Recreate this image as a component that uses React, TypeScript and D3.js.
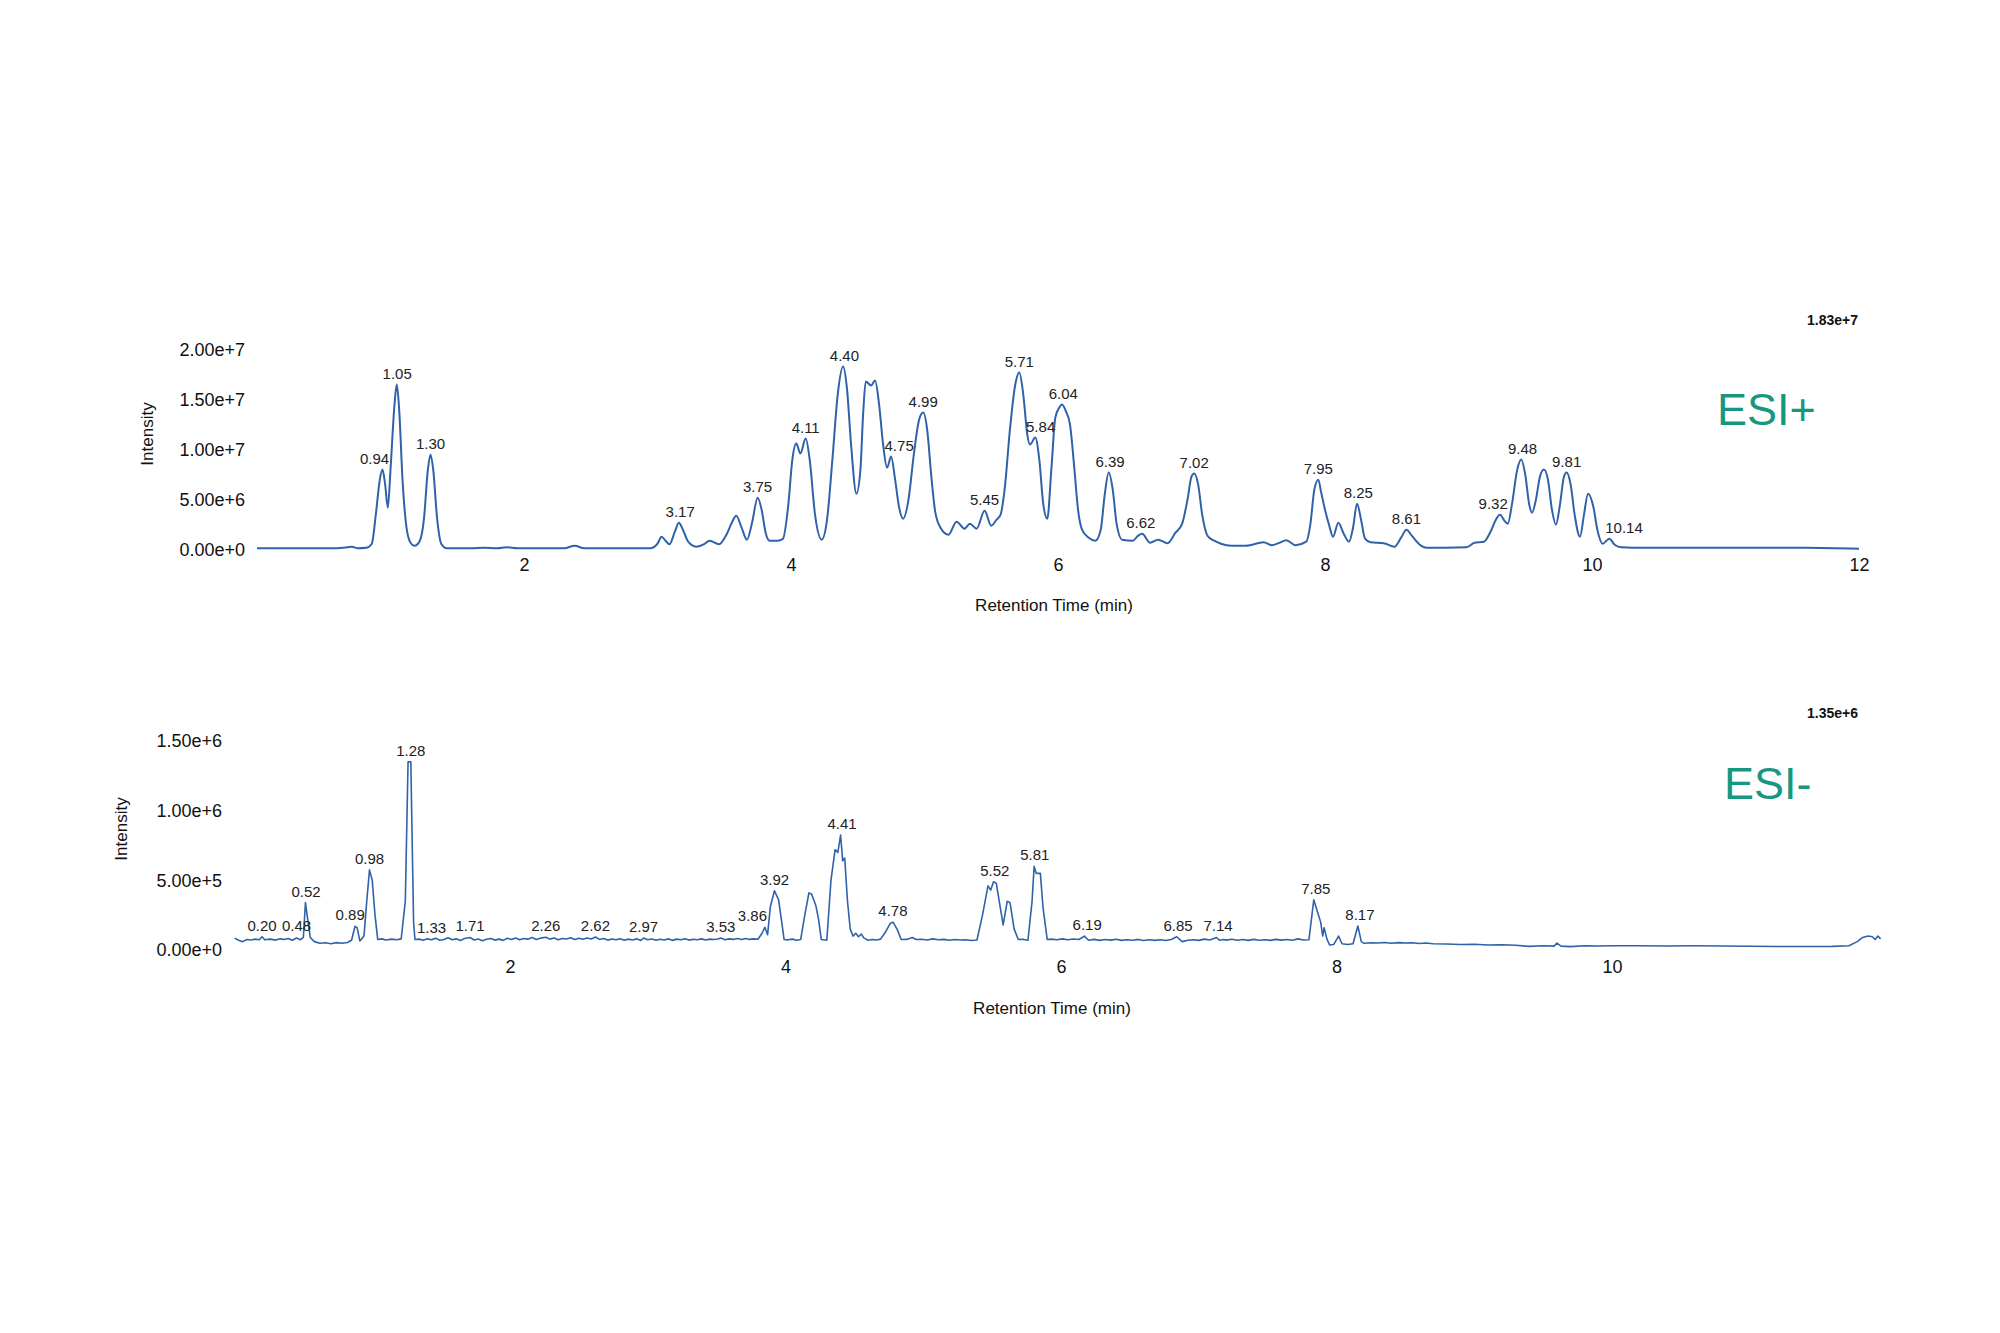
import React, { useEffect, useRef } from 'react'
import * as d3 from 'd3'

type Pt = [number, number]

// ESI+ chromatogram: [retention time (min), intensity]
const esiPos: Pt[] = [
    [0.00, 0.15e6], [0.60, 0.15e6], [0.68, 0.25e6], [0.71, 0.3e6], [0.75, 0.15e6], [0.82, 0.2e6],
    [0.86, 0.6e6], [0.89, 3.5e6], [0.92, 7.0e6], [0.94, 8.0e6], [0.96, 6.5e6], [0.98, 4.2e6],
    [1.00, 8.0e6], [1.03, 14.5e6], [1.047, 16.5e6], [1.065, 14.0e6], [1.09, 7.0e6], [1.12, 2.2e6],
    [1.15, 0.7e6], [1.18, 0.4e6], [1.22, 0.9e6], [1.25, 3.0e6], [1.28, 8.0e6], [1.30, 9.5e6],
    [1.32, 8.0e6], [1.35, 3.0e6], [1.38, 0.6e6], [1.42, 0.15e6], [1.60, 0.15e6], [1.70, 0.2e6],
    [1.80, 0.15e6], [1.87, 0.25e6], [1.95, 0.15e6], [2.30, 0.15e6], [2.38, 0.4e6], [2.45, 0.15e6],
    [2.95, 0.15e6], [3.00, 0.6e6], [3.03, 1.3e6], [3.06, 0.9e6], [3.09, 0.55e6], [3.13, 1.8e6],
    [3.16, 2.7e6], [3.19, 2.0e6], [3.23, 0.8e6], [3.29, 0.3e6], [3.35, 0.55e6], [3.39, 0.9e6],
    [3.43, 0.7e6], [3.46, 0.55e6], [3.52, 1.6e6], [3.56, 2.8e6], [3.59, 3.4e6], [3.63, 2.2e6],
    [3.67, 1.0e6], [3.71, 2.8e6], [3.75, 5.2e6], [3.78, 4.0e6], [3.81, 1.7e6], [3.84, 0.9e6],
    [3.90, 0.9e6], [3.94, 1.1e6], [3.98, 4.5e6], [4.01, 9.0e6], [4.04, 10.6e6], [4.07, 9.6e6],
    [4.11, 11.1e6], [4.14, 9.0e6], [4.18, 3.5e6], [4.23, 1.0e6], [4.27, 3.0e6], [4.31, 9.0e6],
    [4.35, 15.5e6], [4.39, 18.3e6], [4.42, 16.0e6], [4.45, 10.5e6], [4.49, 5.6e6], [4.52, 8.0e6],
    [4.54, 13.5e6], [4.56, 16.8e6], [4.60, 16.4e6], [4.63, 16.9e6], [4.66, 14.5e6], [4.69, 10.5e6],
    [4.72, 8.2e6], [4.75, 9.3e6], [4.78, 7.0e6], [4.81, 4.2e6], [4.84, 3.1e6], [4.88, 5.0e6],
    [4.92, 9.5e6], [4.96, 13.0e6], [4.99, 13.7e6], [5.02, 12.0e6], [5.05, 7.5e6], [5.08, 3.8e6],
    [5.12, 2.2e6], [5.18, 1.5e6], [5.24, 2.8e6], [5.30, 2.1e6], [5.34, 2.6e6], [5.39, 2.1e6],
    [5.45, 3.9e6], [5.50, 2.4e6], [5.54, 3.0e6], [5.57, 3.5e6], [5.60, 6.0e6], [5.64, 12.0e6],
    [5.68, 16.5e6], [5.71, 17.7e6], [5.74, 15.5e6], [5.77, 11.5e6], [5.79, 10.5e6], [5.83, 11.2e6],
    [5.86, 9.0e6], [5.89, 4.5e6], [5.92, 3.1e6], [5.95, 8.0e6], [5.98, 13.2e6], [6.01, 14.2e6],
    [6.03, 14.5e6], [6.06, 13.8e6], [6.09, 12.5e6], [6.12, 8.5e6], [6.15, 4.0e6], [6.18, 2.0e6],
    [6.23, 1.2e6], [6.28, 0.9e6], [6.32, 2.0e6], [6.35, 5.5e6], [6.38, 7.7e6], [6.41, 6.0e6],
    [6.44, 2.5e6], [6.48, 1.0e6], [6.56, 0.9e6], [6.60, 1.4e6], [6.63, 1.6e6], [6.69, 0.7e6],
    [6.75, 1.0e6], [6.82, 0.65e6], [6.88, 1.7e6], [6.93, 2.6e6], [6.97, 5.0e6], [7.00, 7.3e6],
    [7.02, 7.6e6], [7.05, 6.5e6], [7.08, 3.5e6], [7.12, 1.4e6], [7.17, 0.9e6], [7.22, 0.6e6],
    [7.30, 0.4e6], [7.41, 0.4e6], [7.54, 0.75e6], [7.60, 0.45e6], [7.66, 0.7e6], [7.71, 0.95e6],
    [7.78, 0.45e6], [7.86, 0.8e6], [7.89, 2.5e6], [7.92, 6.0e6], [7.95, 7.0e6], [7.97, 5.8e6],
    [8.00, 4.0e6], [8.03, 2.5e6], [8.06, 1.3e6], [8.10, 2.7e6], [8.14, 1.6e6], [8.18, 0.8e6],
    [8.21, 2.2e6], [8.24, 4.6e6], [8.27, 3.0e6], [8.30, 1.1e6], [8.34, 0.75e6], [8.44, 0.65e6],
    [8.52, 0.3e6], [8.57, 1.2e6], [8.61, 2.0e6], [8.65, 1.4e6], [8.71, 0.5e6], [8.76, 0.2e6],
    [9.06, 0.25e6], [9.12, 0.7e6], [9.19, 0.8e6], [9.24, 1.8e6], [9.28, 3.0e6], [9.31, 3.5e6],
    [9.35, 2.8e6], [9.37, 2.6e6], [9.40, 4.5e6], [9.44, 8.0e6], [9.47, 9.0e6], [9.50, 7.5e6],
    [9.53, 4.5e6], [9.55, 3.7e6], [9.58, 5.0e6], [9.61, 7.3e6], [9.64, 8.0e6], [9.67, 7.0e6],
    [9.70, 4.0e6], [9.73, 2.5e6], [9.76, 4.5e6], [9.79, 7.3e6], [9.81, 7.7e6], [9.84, 6.5e6],
    [9.87, 3.5e6], [9.91, 1.3e6], [9.94, 3.5e6], [9.97, 5.6e6], [10.01, 4.3e6], [10.04, 2.0e6],
    [10.08, 0.6e6], [10.13, 1.1e6], [10.17, 0.5e6], [10.22, 0.25e6], [10.40, 0.2e6], [11.60, 0.2e6],
    [12.00, 0.1e6],
]

// ESI- chromatogram (noisy trace, drawn straight point to point)
const esiNeg: Pt[] = [
    [0.00, 8.5e4], [0.03, 7.0e4], [0.06, 6.0e4], [0.09, 7.5e4], [0.12, 7.2e4], [0.15, 7.8e4],
    [0.18, 7.4e4], [0.20, 9.5e4], [0.22, 7.3e4], [0.26, 7.8e4], [0.30, 7.1e4], [0.33, 8.0e4],
    [0.36, 7.5e4], [0.39, 8.2e4], [0.42, 7.0e4], [0.45, 8.6e4], [0.48, 7.4e4], [0.50, 9.0e4],
    [0.515, 3.4e5], [0.53, 2.3e5], [0.55, 9.0e4], [0.58, 6.0e4], [0.62, 4.8e4], [0.66, 5.2e4],
    [0.70, 4.5e4], [0.74, 5.3e4], [0.78, 4.8e4], [0.82, 5.4e4], [0.85, 7.0e4], [0.875, 1.7e5],
    [0.89, 1.6e5], [0.91, 6.5e4], [0.94, 1.0e5], [0.96, 3.5e5], [0.98, 5.75e5], [1.00, 5.0e5],
    [1.02, 2.5e5], [1.04, 7.5e4], [1.07, 8.0e4], [1.10, 7.2e4], [1.14, 7.8e4], [1.18, 7.4e4],
    [1.21, 8.0e4], [1.24, 3.5e5], [1.26, 1.35e6], [1.28, 1.35e6], [1.30, 2.0e5], [1.31, 7.5e4],
    [1.34, 7.8e4], [1.37, 7.0e4], [1.40, 8.0e4], [1.43, 7.3e4], [1.46, 8.5e4], [1.49, 7.0e4],
    [1.52, 7.6e4], [1.55, 8.8e4], [1.58, 7.4e4], [1.61, 8.0e4], [1.64, 6.8e4], [1.67, 8.2e4],
    [1.71, 9.0e4], [1.74, 7.2e4], [1.77, 7.9e4], [1.80, 6.6e4], [1.83, 7.7e4], [1.86, 8.3e4],
    [1.89, 7.1e4], [1.92, 7.8e4], [1.95, 6.9e4], [1.98, 8.4e4], [2.01, 7.5e4], [2.04, 8.6e4],
    [2.07, 7.3e4], [2.10, 8.2e4], [2.13, 7.8e4], [2.16, 8.9e4], [2.19, 7.6e4], [2.22, 8.5e4],
    [2.26, 9.2e4], [2.29, 7.8e4], [2.32, 8.6e4], [2.35, 7.4e4], [2.38, 8.3e4], [2.41, 7.9e4],
    [2.44, 8.8e4], [2.47, 7.5e4], [2.50, 8.4e4], [2.53, 7.7e4], [2.56, 8.6e4], [2.59, 7.9e4],
    [2.62, 9.3e4], [2.65, 7.6e4], [2.68, 8.2e4], [2.71, 7.1e4], [2.74, 7.9e4], [2.77, 7.3e4],
    [2.80, 8.1e4], [2.83, 7.0e4], [2.86, 7.8e4], [2.89, 7.2e4], [2.92, 8.0e4], [2.95, 6.9e4],
    [2.97, 8.6e4], [3.00, 7.4e4], [3.03, 7.9e4], [3.06, 7.0e4], [3.09, 7.7e4], [3.12, 7.2e4],
    [3.15, 8.0e4], [3.18, 6.9e4], [3.21, 7.8e4], [3.24, 7.3e4], [3.27, 8.1e4], [3.30, 7.1e4],
    [3.33, 7.7e4], [3.36, 7.4e4], [3.39, 8.0e4], [3.42, 7.2e4], [3.45, 7.8e4], [3.48, 7.5e4],
    [3.51, 7.9e4], [3.53, 8.6e4], [3.56, 7.4e4], [3.59, 8.0e4], [3.62, 7.6e4], [3.65, 8.2e4],
    [3.68, 7.5e4], [3.71, 8.3e4], [3.74, 7.6e4], [3.77, 8.0e4], [3.80, 7.7e4], [3.83, 1.2e5],
    [3.85, 1.63e5], [3.87, 1.1e5], [3.89, 3.1e5], [3.92, 4.25e5], [3.95, 3.6e5], [3.97, 2.2e5],
    [3.99, 7.5e4], [4.02, 7.3e4], [4.05, 7.8e4], [4.08, 7.0e4], [4.11, 7.5e4], [4.14, 2.5e5],
    [4.17, 4.1e5], [4.19, 4.0e5], [4.22, 3.2e5], [4.24, 2.2e5], [4.26, 7.5e4], [4.30, 7.0e4],
    [4.33, 5.0e5], [4.36, 7.2e5], [4.38, 7.0e5], [4.40, 8.25e5], [4.415, 6.4e5], [4.43, 6.6e5],
    [4.45, 3.5e5], [4.47, 1.5e5], [4.49, 1.0e5], [4.51, 1.2e5], [4.53, 9.5e4], [4.55, 1.15e5],
    [4.57, 8.5e4], [4.60, 7.0e4], [4.63, 7.5e4], [4.66, 7.2e4], [4.69, 7.8e4], [4.72, 1.2e5],
    [4.76, 1.9e5], [4.78, 2.0e5], [4.81, 1.5e5], [4.84, 7.5e4], [4.88, 7.6e4], [4.92, 9.0e4],
    [4.95, 7.5e4], [4.99, 7.7e4], [5.03, 7.2e4], [5.07, 8.0e4], [5.11, 7.4e4], [5.15, 7.6e4],
    [5.19, 7.0e4], [5.23, 7.5e4], [5.27, 7.2e4], [5.31, 7.4e4], [5.35, 6.8e4], [5.39, 7.2e4],
    [5.43, 2.5e5], [5.47, 4.6e5], [5.49, 4.3e5], [5.51, 4.9e5], [5.53, 4.8e5], [5.56, 3.0e5],
    [5.58, 1.8e5], [5.61, 3.5e5], [5.63, 3.4e5], [5.66, 1.5e5], [5.69, 7.5e4], [5.73, 7.6e4],
    [5.76, 7.0e4], [5.79, 3.5e5], [5.805, 6.0e5], [5.82, 5.5e5], [5.85, 5.5e5], [5.87, 3.0e5],
    [5.90, 7.5e4], [5.93, 7.8e4], [5.97, 7.4e4], [6.01, 8.0e4], [6.05, 7.3e4], [6.09, 7.9e4],
    [6.13, 7.5e4], [6.17, 1.0e5], [6.20, 7.0e4], [6.24, 7.6e4], [6.28, 6.9e4], [6.32, 7.5e4],
    [6.36, 7.1e4], [6.40, 7.7e4], [6.44, 6.9e4], [6.48, 7.4e4], [6.52, 7.0e4], [6.56, 7.6e4],
    [6.60, 6.8e4], [6.64, 7.3e4], [6.68, 6.9e4], [6.72, 7.4e4], [6.76, 6.8e4], [6.80, 7.6e4],
    [6.84, 9.5e4], [6.88, 6.0e4], [6.92, 7.0e4], [6.96, 7.4e4], [7.00, 6.9e4], [7.04, 7.8e4],
    [7.08, 7.2e4], [7.13, 9.0e4], [7.15, 7.0e4], [7.18, 7.6e4], [7.20, 7.1e4], [7.24, 7.7e4],
    [7.28, 7.0e4], [7.32, 7.5e4], [7.36, 6.9e4], [7.40, 7.6e4], [7.44, 7.0e4], [7.48, 7.4e4],
    [7.52, 6.9e4], [7.56, 7.6e4], [7.60, 7.1e4], [7.64, 7.5e4], [7.68, 7.0e4], [7.72, 8.0e4],
    [7.76, 7.2e4], [7.80, 7.4e4], [7.835, 3.6e5], [7.86, 2.8e5], [7.885, 2.0e5], [7.90, 1.0e5],
    [7.91, 1.6e5], [7.93, 8.0e4], [7.95, 3.6e4], [7.98, 4.0e4], [8.015, 1.0e5], [8.04, 4.5e4],
    [8.08, 4.0e4], [8.12, 4.5e4], [8.155, 1.72e5], [8.18, 6.0e4], [8.20, 4.8e4], [8.25, 5.2e4],
    [8.30, 5.0e4], [8.35, 5.4e4], [8.40, 4.9e4], [8.45, 5.3e4], [8.50, 5.0e4], [8.55, 5.2e4],
    [8.60, 4.7e4], [8.65, 5.0e4], [8.70, 4.5e4], [8.80, 4.3e4], [8.90, 4.0e4], [9.00, 4.1e4],
    [9.10, 3.6e4], [9.20, 3.8e4], [9.30, 3.4e4], [9.40, 2.6e4], [9.50, 3.0e4], [9.58, 2.8e4],
    [9.60, 5.0e4], [9.63, 2.8e4], [9.70, 2.4e4], [9.80, 3.0e4], [9.90, 2.9e4], [10.00, 3.1e4],
    [10.20, 3.0e4], [10.40, 2.9e4], [10.60, 3.0e4], [10.80, 2.9e4], [11.00, 2.7e4], [11.20, 2.5e4],
    [11.40, 2.5e4], [11.60, 2.6e4], [11.72, 3.0e4], [11.78, 6.0e4], [11.82, 9.0e4], [11.86, 1.0e5],
    [11.89, 9.5e4], [11.91, 7.5e4], [11.93, 1.0e5], [11.95, 8.0e4],
]

// annotated retention times
const posLabels = [0.94, 1.05, 1.30, 3.17, 3.75, 4.11, 4.40, 4.75, 4.99, 5.45, 5.71, 5.84, 6.04,
    6.39, 6.62, 7.02, 7.95, 8.25, 8.61, 9.32, 9.48, 9.81, 10.14]
const negLabels = [0.20, 0.48, 0.52, 0.89, 0.98, 1.28, 1.33, 1.71, 2.26, 2.62, 2.97, 3.53, 3.86,
    3.92, 4.41, 4.78, 5.52, 5.81, 6.19, 6.85, 7.14, 7.85, 8.17]

// sideways shifts (min) the original software gave some labels
const posNudge: Record<string, number> = { '0.94': -0.06, '4.75': 0.06, '5.84': 0.03, '9.32': -0.06, '10.14': 0.1 }
const negNudge: Record<string, number> = { '0.48': -0.03, '0.89': -0.05, '1.33': 0.1, '3.86': -0.1 }

const posTicksX = [2, 4, 6, 8, 10, 12]
const negTicksX = [2, 4, 6, 8, 10]
const posTicksY = [0, 5e6, 1e7, 1.5e7, 2e7]
const negTicksY = [0, 5e5, 1e6, 1.5e6]

const FONT = "'Liberation Sans', Arial, Helvetica, sans-serif"
const LINE = '#2f62a8'
const TEAL = '#17977f'

type Panel = {
    name: string
    data: Pt[]
    labels: number[]
    nudge: Record<string, number>
    ticksX: number[]
    ticksY: number[]
    yMax: number
    xRange: [number, number]
    yRange: [number, number]
    yTickX: number
    xTickY: number
    xTitle: [number, number]
    yTitle: [number, number]
    maxLabel: [number, number]
    esi: [number, number]
    smooth: boolean
    strokeW: number
}

const panels: Panel[] = [
    {
        name: 'ESI+', data: esiPos, labels: posLabels, nudge: posNudge,
        ticksX: posTicksX, ticksY: posTicksY, yMax: 2e7,
        xRange: [257, 1859], yRange: [549.7, 349.5],
        yTickX: 245, xTickY: 558.5, xTitle: [1054, 605], yTitle: [147, 434],
        maxLabel: [1858, 320], esi: [1717, 409], smooth: true, strokeW: 2,
    },
    {
        name: 'ESI-', data: esiNeg, labels: negLabels, nudge: negNudge,
        ticksX: negTicksX, ticksY: negTicksY, yMax: 1.5e6,
        xRange: [234.5, 1887.5], yRange: [950, 741],
        yTickX: 222, xTickY: 960.5, xTitle: [1052, 1008], yTitle: [121, 829],
        maxLabel: [1858, 713], esi: [1724, 783], smooth: false, strokeW: 1.6,
    },
]

export default function App() {

    const d3Ref = useRef<SVGSVGElement>(null)

    useEffect(() => {
        const svg = d3.select(d3Ref.current!)
        svg.selectAll('*').remove()

        panels.forEach(p => {
            const x = d3.scaleLinear().domain([0, 12]).range(p.xRange)
            const y = d3.scaleLinear().domain([0, p.yMax]).range(p.yRange)
            const g = svg.append('g')

            // trace
            const line = d3.line<Pt>()
                .x(d => x(d[0]))
                .y(d => y(d[1]))
                .curve(p.smooth ? d3.curveMonotoneX : d3.curveLinear)
            g.append('path')
                .datum(p.data)
                .attr('d', line)
                .attr('fill', 'none')
                .attr('stroke', LINE)
                .attr('stroke-width', p.strokeW)
                .attr('stroke-linejoin', 'round')

            // x ticks (no axis line)
            const xa = g.append('g')
                .attr('transform', `translate(0,${p.xTickY})`)
                .call(d3.axisBottom(x).tickValues(p.ticksX).tickSize(0).tickPadding(0).tickFormat(d3.format('d')))
            xa.select('.domain').remove()
            xa.attr('font-family', FONT).attr('font-size', 18)
            xa.selectAll('text').attr('fill', '#111')

            // y ticks
            const ya = g.append('g')
                .attr('transform', `translate(${p.yTickX},0)`)
                .call(d3.axisLeft(y).tickValues(p.ticksY).tickSize(0).tickPadding(0).tickFormat(d3.format('.2e')))
            ya.select('.domain').remove()
            ya.attr('font-family', FONT).attr('font-size', 18)
            ya.selectAll('text').attr('fill', '#111')

            // axis titles
            g.append('text')
                .attr('x', p.xTitle[0]).attr('y', p.xTitle[1])
                .attr('dy', '0.35em')
                .attr('text-anchor', 'middle')
                .attr('font-size', 17)
                .attr('fill', '#111')
                .text('Retention Time (min)')
            g.append('text')
                .attr('transform', `translate(${p.yTitle[0]},${p.yTitle[1]}) rotate(-90)`)
                .attr('dy', '0.35em')
                .attr('text-anchor', 'middle')
                .attr('font-size', 17)
                .attr('fill', '#111')
                .text('Intensity')

            // peak labels
            p.labels.forEach(rt => {
                const near = p.data.filter(d => Math.abs(d[0] - rt) <= 0.0201)
                const top = d3.max(near, d => d[1]) ?? 0
                const key = rt.toFixed(2)
                g.append('text')
                    .attr('x', x(rt + (p.nudge[key] ?? 0)))
                    .attr('y', y(top) - 6)
                    .attr('text-anchor', 'middle')
                    .attr('font-size', 15)
                    .attr('fill', '#222')
                    .text(key)
            })

            // max intensity in the corner
            g.append('text')
                .attr('x', p.maxLabel[0]).attr('y', p.maxLabel[1])
                .attr('dy', '0.35em')
                .attr('text-anchor', 'end')
                .attr('font-size', 14)
                .attr('font-weight', 'bold')
                .attr('fill', '#111')
                .text(d3.format('.2e')(d3.max(p.data, d => d[1]) ?? 0))

            // mode tag
            g.append('text')
                .attr('x', p.esi[0]).attr('y', p.esi[1])
                .attr('dy', '0.35em')
                .attr('font-size', 45)
                .attr('fill', TEAL)
                .text(p.name)
        })
    }, [])

    return (
        <div>
            <svg ref={d3Ref} width={2000} height={1333}
                style={{ position: 'absolute', left: 0, top: 0, background: '#fff', fontFamily: FONT }} />
        </div>
    )
}
